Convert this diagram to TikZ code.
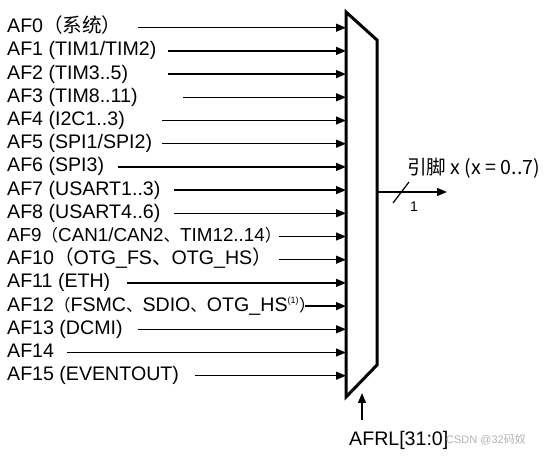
\documentclass[tikz,border=0pt]{standalone}
\usepackage{fontspec}
\setmainfont{Liberation Sans}
\newfontfamily\cjk{Noto Sans CJK SC}
\newcommand{\zhsize}{19.6}
\newcommand{\zh}[1]{{\cjk\fontsize{\zhsize}{21}\selectfont #1}}
\usetikzlibrary{arrows.meta}

\begin{document}
\begin{tikzpicture}[x=1pt,y=-1pt,>={Triangle[length=10pt,width=8pt]},
                    af/.style={anchor=base west,inner sep=0pt,
                               font=\fontsize{19.6}{21}\selectfont},
                    input/.style={->,line width=1.3pt},
                    mux/.style={line width=3pt,line join=miter}]
  \useasboundingbox (0,0) rectangle (550,457);

  % multiplexer
  \coordinate (muxTL) at (346,12);
  \coordinate (muxTR) at (377,40);
  \coordinate (muxBR) at (377,365);
  \coordinate (muxBL) at (346,397);
  \draw[mux] (muxTL) -- (muxTR) -- (muxBR) -- (muxBL) -- cycle;

  % alternate function inputs: index / text / line start / font / cjk font
  \foreach \i/\txt/\sx/\fs/\zs in {
      0/{AF0\zh{（系统）}}/138/19.6/19.6,
      1/{AF1 (TIM1/TIM2)}/168/19.6/19.6,
      2/{AF2 (TIM3..5)}/168/19.6/19.6,
      3/{AF3 (TIM8..11)}/183/19.6/19.6,
      4/{AF4 (I2C1..3)}/162/19.6/19.6,
      5/{AF5 (SPI1/SPI2)}/162/19.6/19.6,
      6/{AF6 (SPI3)}/118/19.6/19.6,
      7/{AF7 (USART1..3)}/174/19.6/19.6,
      8/{AF8 (USART4..6)}/174/19.6/19.6,
      9/{AF9\zh{（}CAN1/CAN2\zh{、}TIM12..14\zh{）}}/279/18.8/16.5,
      10/{AF10\zh{（}OTG\_FS\zh{、}OTG\_HS\zh{）}}/279/19.6/19.6,
      11/{AF11 (ETH)}/127/19.6/19.6,
      12/{AF12\zh{（}FSMC\zh{、}SDIO\zh{、}OTG\_HS\textsuperscript{\fontsize{9}{10}\selectfont(1)}\zh{）}}/305/19.6/16.5,
      13/{AF13 (DCMI)}/138/19.6/19.6,
      14/{AF14}/67/19.6/19.6,
      15/{AF15 (EVENTOUT)}/195/19.6/19.6} {
    \pgfmathsetmacro{\yy}{27.7+23.2*\i}
    \renewcommand{\zhsize}{\zs}
    \node[af,font=\fontsize{\fs}{21}\selectfont] (af\i) at (7,\yy+5) {\txt};
    \coordinate (src\i) at (\sx,\yy);
    \coordinate (in\i) at (346,\yy);
    \draw[input] (src\i) -- (in\i);
  }

  % output pin
  \coordinate (out) at (377,192);
  \coordinate (pin) at (447,192);
  \draw[input] (out) -- (pin);
  \draw[line width=1.2pt] (393,203) -- (409,182);
  \node[anchor=base west,inner sep=0pt,font=\fontsize{14}{15}\selectfont]
    (width) at (410,212) {1};
  \node[af] (pinlabel) at (407,175) {\cjk{引脚} x (x = 0..7)};

  % select register
  \coordinate (selsrc) at (362,420);
  \coordinate (sel) at (362,393);
  \draw[input] (selsrc) -- (sel);
  \node[af] (afrl) at (349,446) {AFRL[31:0]};

  % watermark
  \node[anchor=base west,inner sep=0pt,text=black!30,
        font=\fontsize{11}{12}\selectfont] (mark) at (446,444) {CSDN @32\cjk{码奴}};
\end{tikzpicture}
\end{document}
